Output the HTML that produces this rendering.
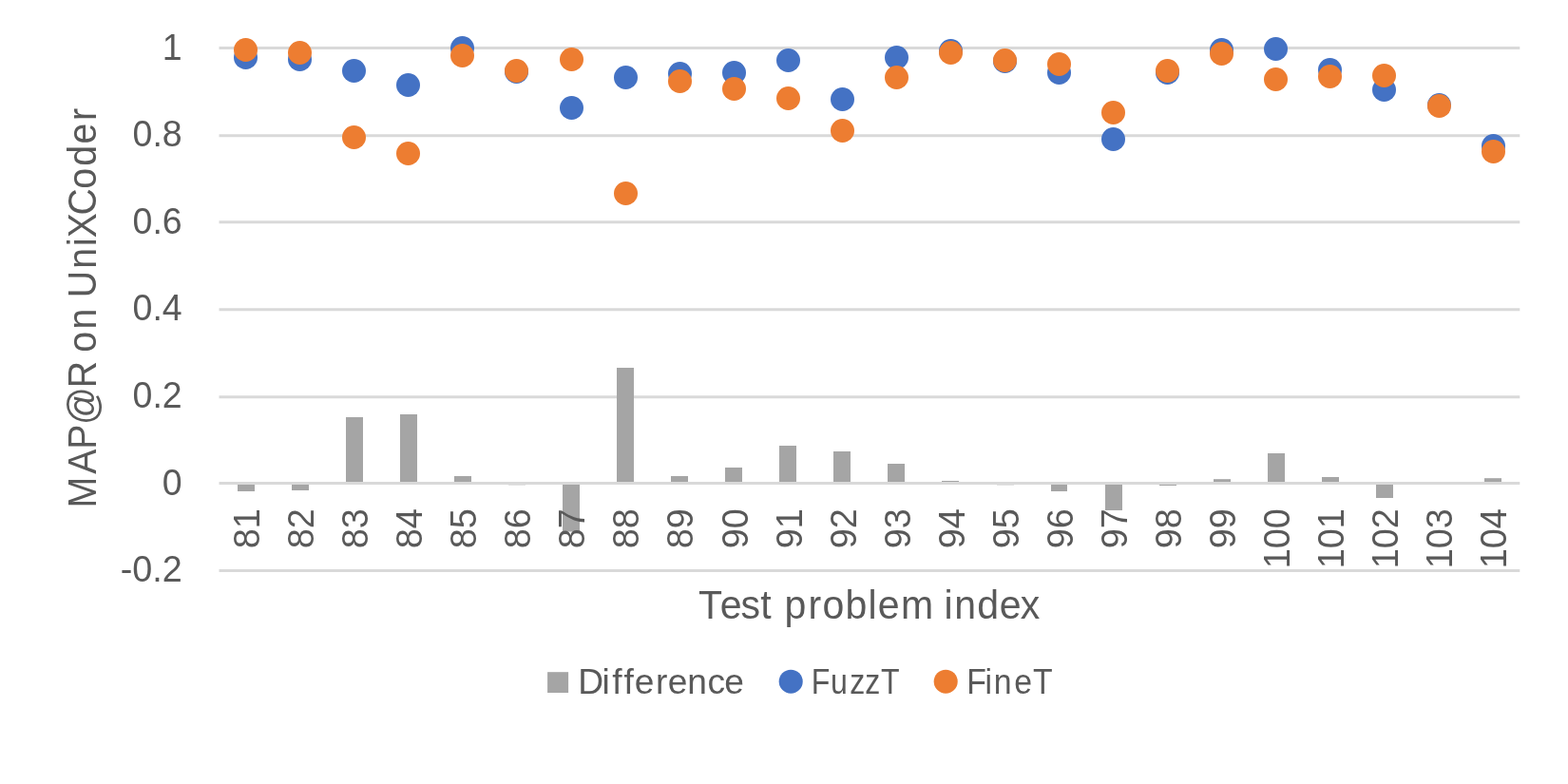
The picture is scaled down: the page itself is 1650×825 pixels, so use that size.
<!DOCTYPE html>
<html lang="en">
<head>
<meta charset="utf-8">
<title>MAP@R on UniXCoder</title>
<style>
html,body{margin:0;padding:0;background:#fff;}
body{width:1650px;height:825px;overflow:hidden;font-family:"Liberation Sans",Arial,sans-serif;}
svg{display:block;}
text{white-space:pre;}
</style>
</head>
<body>
<svg width="1650" height="825" viewBox="0 0 1650 825">
<rect width="1650" height="825" fill="#fff"/>
<g stroke="#D9D9D9" stroke-width="3.0" fill="none">
<line x1="230.5" y1="50.4" x2="1599.3" y2="50.4"/>
<line x1="230.5" y1="142.7" x2="1599.3" y2="142.7"/>
<line x1="230.5" y1="233.7" x2="1599.3" y2="233.7"/>
<line x1="230.5" y1="325.7" x2="1599.3" y2="325.7"/>
<line x1="230.5" y1="417.7" x2="1599.3" y2="417.7"/>
<line x1="230.5" y1="600.4" x2="1599.3" y2="600.4"/>
</g>
<g fill="#A5A5A5">
<rect x="250.00" y="508.50" width="18" height="8.50"/>
<rect x="307.00" y="508.50" width="18" height="7.50"/>
<rect x="364.00" y="439.00" width="18" height="69.50"/>
<rect x="421.00" y="436.00" width="18" height="72.50"/>
<rect x="478.00" y="501.00" width="18" height="7.50"/>
<rect x="535.00" y="508.50" width="18" height="2.10" opacity="0.5"/>
<rect x="592.00" y="508.50" width="18" height="51.00"/>
<rect x="649.00" y="387.00" width="18" height="121.50"/>
<rect x="706.00" y="501.00" width="18" height="7.50"/>
<rect x="763.00" y="492.00" width="18" height="16.50"/>
<rect x="820.00" y="469.00" width="18" height="39.50"/>
<rect x="877.00" y="475.00" width="18" height="33.50"/>
<rect x="934.00" y="488.00" width="18" height="20.50"/>
<rect x="991.00" y="506.00" width="18" height="2.50"/>
<rect x="1049.00" y="508.50" width="18" height="2.10" opacity="0.5"/>
<rect x="1106.00" y="508.50" width="17" height="8.50"/>
<rect x="1163.00" y="508.50" width="18" height="28.50"/>
<rect x="1220.00" y="508.50" width="18" height="2.50"/>
<rect x="1277.00" y="504.20" width="18" height="4.30"/>
<rect x="1334.00" y="477.00" width="18" height="31.50"/>
<rect x="1391.00" y="502.00" width="18" height="6.50"/>
<rect x="1448.00" y="508.50" width="18" height="15.50"/>
<rect x="1562.00" y="503.20" width="18" height="5.30"/>
</g>
<line x1="230.5" y1="508.4" x2="1599.3" y2="508.4" stroke="#D9D9D9" stroke-width="3.0"/>
<g fill="#595959" font-family="'Liberation Sans', Arial, sans-serif">
<text x="191.7" y="63.00" font-size="38" text-anchor="end" textLength="20.85" lengthAdjust="spacingAndGlyphs">1</text>
<text x="191.7" y="154.00" font-size="38" text-anchor="end" textLength="52.12" lengthAdjust="spacingAndGlyphs">0.8</text>
<text x="191.7" y="246.00" font-size="38" text-anchor="end" textLength="52.12" lengthAdjust="spacingAndGlyphs">0.6</text>
<text x="191.7" y="337.00" font-size="38" text-anchor="end" textLength="52.12" lengthAdjust="spacingAndGlyphs">0.4</text>
<text x="191.7" y="429.00" font-size="38" text-anchor="end" textLength="52.12" lengthAdjust="spacingAndGlyphs">0.2</text>
<text x="191.7" y="521.00" font-size="38" text-anchor="end" textLength="20.85" lengthAdjust="spacingAndGlyphs">0</text>
<text x="191.7" y="612.00" font-size="38" text-anchor="end" textLength="65.05" lengthAdjust="spacingAndGlyphs">-0.2</text>
<text transform="translate(273.00 535.2) rotate(-90)" font-size="38" text-anchor="end" textLength="42.00" lengthAdjust="spacingAndGlyphs">81</text>
<text transform="translate(330.00 535.2) rotate(-90)" font-size="38" text-anchor="end" textLength="42.00" lengthAdjust="spacingAndGlyphs">82</text>
<text transform="translate(387.00 535.2) rotate(-90)" font-size="38" text-anchor="end" textLength="42.00" lengthAdjust="spacingAndGlyphs">83</text>
<text transform="translate(444.00 535.2) rotate(-90)" font-size="38" text-anchor="end" textLength="42.00" lengthAdjust="spacingAndGlyphs">84</text>
<text transform="translate(501.00 535.2) rotate(-90)" font-size="38" text-anchor="end" textLength="42.00" lengthAdjust="spacingAndGlyphs">85</text>
<text transform="translate(558.00 535.2) rotate(-90)" font-size="38" text-anchor="end" textLength="42.00" lengthAdjust="spacingAndGlyphs">86</text>
<text transform="translate(615.00 535.2) rotate(-90)" font-size="38" text-anchor="end" textLength="42.00" lengthAdjust="spacingAndGlyphs">87</text>
<text transform="translate(672.00 535.2) rotate(-90)" font-size="38" text-anchor="end" textLength="42.00" lengthAdjust="spacingAndGlyphs">88</text>
<text transform="translate(729.00 535.2) rotate(-90)" font-size="38" text-anchor="end" textLength="42.00" lengthAdjust="spacingAndGlyphs">89</text>
<text transform="translate(787.00 535.2) rotate(-90)" font-size="38" text-anchor="end" textLength="42.00" lengthAdjust="spacingAndGlyphs">90</text>
<text transform="translate(844.00 535.2) rotate(-90)" font-size="38" text-anchor="end" textLength="42.00" lengthAdjust="spacingAndGlyphs">91</text>
<text transform="translate(901.00 535.2) rotate(-90)" font-size="38" text-anchor="end" textLength="42.00" lengthAdjust="spacingAndGlyphs">92</text>
<text transform="translate(958.00 535.2) rotate(-90)" font-size="38" text-anchor="end" textLength="42.00" lengthAdjust="spacingAndGlyphs">93</text>
<text transform="translate(1015.00 535.2) rotate(-90)" font-size="38" text-anchor="end" textLength="42.00" lengthAdjust="spacingAndGlyphs">94</text>
<text transform="translate(1072.00 535.2) rotate(-90)" font-size="38" text-anchor="end" textLength="42.00" lengthAdjust="spacingAndGlyphs">95</text>
<text transform="translate(1129.00 535.2) rotate(-90)" font-size="38" text-anchor="end" textLength="42.00" lengthAdjust="spacingAndGlyphs">96</text>
<text transform="translate(1186.00 535.2) rotate(-90)" font-size="38" text-anchor="end" textLength="42.00" lengthAdjust="spacingAndGlyphs">97</text>
<text transform="translate(1243.00 535.2) rotate(-90)" font-size="38" text-anchor="end" textLength="42.00" lengthAdjust="spacingAndGlyphs">98</text>
<text transform="translate(1300.00 535.2) rotate(-90)" font-size="38" text-anchor="end" textLength="42.00" lengthAdjust="spacingAndGlyphs">99</text>
<text transform="translate(1357.00 535.2) rotate(-90)" font-size="38" text-anchor="end" textLength="63.00" lengthAdjust="spacingAndGlyphs">100</text>
<text transform="translate(1414.00 535.2) rotate(-90)" font-size="38" text-anchor="end" textLength="63.00" lengthAdjust="spacingAndGlyphs">101</text>
<text transform="translate(1471.00 535.2) rotate(-90)" font-size="38" text-anchor="end" textLength="63.00" lengthAdjust="spacingAndGlyphs">102</text>
<text transform="translate(1528.00 535.2) rotate(-90)" font-size="38" text-anchor="end" textLength="63.00" lengthAdjust="spacingAndGlyphs">103</text>
<text transform="translate(1585.00 535.2) rotate(-90)" font-size="38" text-anchor="end" textLength="63.00" lengthAdjust="spacingAndGlyphs">104</text>
<text transform="translate(735.08 651.00) scale(0.9772 1)" x="0.00 23.13 45.52 66.68 78.35 92.51 118.01 133.45 158.00 182.46 193.05 217.93 252.92 264.47 275.46 300.13 324.03 346.54" y="0" font-size="42">Test problem index</text>
<text transform="translate(101.30 534.58) rotate(-90) scale(0.9336 1)" x="0.00 38.46 66.28 93.86 135.36 165.69 175.58 201.36 224.72 237.00 269.75 295.23 304.64 329.97 359.75 385.34 410.46 436.50" y="0" font-size="42">MAP@R on UniXCoder</text>
<text transform="translate(608.15 729.50) scale(0.9990 1)" x="0.00 25.30 36.18 48.29 59.76 82.02 94.59 115.35 136.39 154.28" y="0" font-size="37.2">Difference</text>
<text transform="translate(853.87 729.50) scale(0.8620 1)" x="0.00 23.30 46.82 65.50 84.78" y="0" font-size="37.2">FuzzT</text>
<text transform="translate(1017.13 729.50) scale(0.9083 1)" x="0.00 21.28 31.60 55.06 76.96" y="0" font-size="37.2">FineT</text>
</g>
<g fill="#4472C4">
<circle cx="258.50" cy="60.50" r="12.5"/>
<circle cx="315.50" cy="62.50" r="12.5"/>
<circle cx="372.50" cy="74.50" r="12.5"/>
<circle cx="429.50" cy="89.50" r="12.5"/>
<circle cx="486.50" cy="50.50" r="12.5"/>
<circle cx="543.50" cy="75.50" r="12.5"/>
<circle cx="601.50" cy="113.50" r="12.5"/>
<circle cx="658.50" cy="81.50" r="12.5"/>
<circle cx="715.50" cy="77.50" r="12.5"/>
<circle cx="772.50" cy="76.50" r="12.5"/>
<circle cx="829.50" cy="63.50" r="12.5"/>
<circle cx="886.50" cy="104.50" r="12.5"/>
<circle cx="943.50" cy="60.50" r="12.5"/>
<circle cx="1000.50" cy="53.50" r="12.5"/>
<circle cx="1057.50" cy="64.50" r="12.5"/>
<circle cx="1114.50" cy="76.50" r="12.5"/>
<circle cx="1171.50" cy="146.50" r="12.5"/>
<circle cx="1228.50" cy="76.50" r="12.5"/>
<circle cx="1285.50" cy="52.50" r="12.5"/>
<circle cx="1342.50" cy="51.50" r="12.5"/>
<circle cx="1399.50" cy="73.50" r="12.5"/>
<circle cx="1456.50" cy="94.50" r="12.5"/>
<circle cx="1514.50" cy="110.50" r="12.5"/>
<circle cx="1571.50" cy="153.50" r="12.5"/>
</g>
<g fill="#ED7D31">
<circle cx="258.50" cy="52.50" r="12.5"/>
<circle cx="315.50" cy="55.50" r="12.5"/>
<circle cx="372.50" cy="144.50" r="12.5"/>
<circle cx="429.50" cy="161.50" r="12.5"/>
<circle cx="486.50" cy="58.50" r="12.5"/>
<circle cx="543.50" cy="74.50" r="12.5"/>
<circle cx="601.50" cy="62.50" r="12.5"/>
<circle cx="658.50" cy="203.50" r="12.5"/>
<circle cx="715.50" cy="85.50" r="12.5"/>
<circle cx="772.50" cy="93.50" r="12.5"/>
<circle cx="829.50" cy="103.50" r="12.5"/>
<circle cx="886.50" cy="137.50" r="12.5"/>
<circle cx="943.50" cy="81.50" r="12.5"/>
<circle cx="1000.50" cy="55.50" r="12.5"/>
<circle cx="1057.50" cy="63.50" r="12.5"/>
<circle cx="1114.50" cy="67.50" r="12.5"/>
<circle cx="1171.50" cy="118.50" r="12.5"/>
<circle cx="1228.50" cy="74.50" r="12.5"/>
<circle cx="1285.50" cy="56.50" r="12.5"/>
<circle cx="1342.50" cy="83.50" r="12.5"/>
<circle cx="1399.50" cy="80.50" r="12.5"/>
<circle cx="1456.50" cy="79.50" r="12.5"/>
<circle cx="1514.50" cy="111.50" r="12.5"/>
<circle cx="1571.50" cy="159.50" r="12.5"/>
</g>
<rect x="576.1" y="707.2" width="22" height="21.8" fill="#A5A5A5"/>
<circle cx="832.2" cy="717.2" r="12.5" fill="#4472C4"/>
<circle cx="995.2" cy="717.2" r="12.5" fill="#ED7D31"/>
</svg>
</body>
</html>
